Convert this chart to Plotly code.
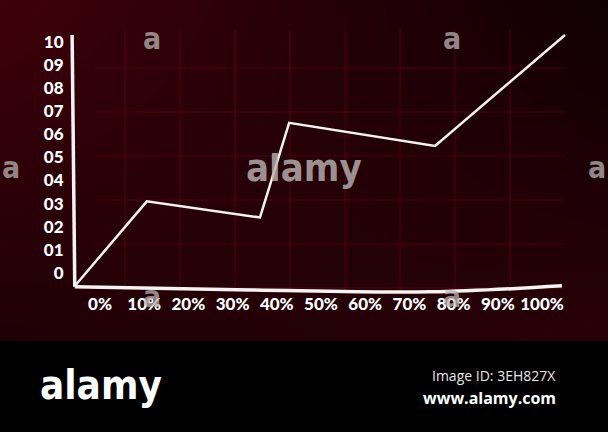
import plotly.graph_objects as go

# tick labels
x_ticks = [0, 10, 20, 30, 40, 50, 60, 70, 80, 90, 100]
x_labels = ["0%", "10%", "20%", "30%", "40%", "50%", "60%", "70%", "80%", "90%", "100%"]
y_ticks = [0, 1, 2, 3, 4, 5, 6, 7, 8, 9, 10]
y_labels = ["0", "01", "02", "03", "04", "05", "06", "07", "08", "09", "10"]

# the hand drawn line
line_x = [-5.4, 10.6, 36.2, 42.8, 75.8, 105.2]
line_y = [-0.5, 3.1, 2.4, 6.5, 5.5, 10.3]

# hand drawn axes
vaxis_x = [-5.7, -6.3]
vaxis_y = [-0.6, 10.3]
haxis_x = [-5.7, 34, 74.7, 104.5]
haxis_y = [-0.6, -0.74, -0.82, -0.56]

# background shading corners (bottom row, top row)
bg_z = [[0.4, 0.6], [1.0, 0.1]]

W, H = 608, 432
FONT = "Lato"
WM = "DejaVu Sans Condensed"

fig = go.Figure()

# background gradient
fig.add_trace(go.Heatmap(z=bg_z, x=[0, 1], y=[0, 1], zsmooth="best",
                         colorscale=[[0, "rgb(10,0,3)"], [1, "rgb(62,0,10)"]],
                         zmin=0, zmax=1, showscale=False, hoverinfo="skip",
                         xaxis="x", yaxis="y"))

# faint grid layer
fig.add_trace(go.Scatter(x=[], y=[], xaxis="x2", yaxis="y2", showlegend=False))

# axes and the line
fig.add_trace(go.Scatter(x=vaxis_x, y=vaxis_y, mode="lines",
                         line=dict(color="#f7f2f2", width=3.5),
                         xaxis="x3", yaxis="y3", showlegend=False, hoverinfo="skip"))
fig.add_trace(go.Scatter(x=haxis_x, y=haxis_y, mode="lines", line_shape="spline",
                         line=dict(color="#f7f2f2", width=3.5),
                         xaxis="x3", yaxis="y3", showlegend=False, hoverinfo="skip"))
fig.add_trace(go.Scatter(x=line_x, y=line_y, mode="lines",
                         line=dict(color="#f7f2f2", width=2.5),
                         xaxis="x3", yaxis="y3", showlegend=False))

foot = (H - 341) / H
px_x = lambda p: p / W
px_y = lambda p: 1 - p / H

hidden = dict(showgrid=False, zeroline=False, showticklabels=False, ticks="", showline=False)
tickfont = dict(family=FONT, size=17, color="white", weight=900)

fig.update_layout(
    width=W, height=H,
    margin=dict(l=0, r=0, t=0, b=0),
    paper_bgcolor="black",
    plot_bgcolor="rgba(0,0,0,0)",
    showlegend=False,
    xaxis=dict(domain=[0, 1], range=[0, 1], **hidden),
    yaxis=dict(domain=[foot, 1], range=[0, 1], **hidden),
    xaxis2=dict(domain=[px_x(95), px_x(565)], range=[95, 565], showgrid=True,
                tick0=125, dtick=55, gridcolor="rgba(120,0,20,0.28)", gridwidth=2,
                zeroline=False, showticklabels=False, ticks="", anchor="y2"),
    yaxis2=dict(domain=[px_y(292), px_y(30)], range=[292, 30], showgrid=True,
                tick0=68, dtick=44, gridcolor="rgba(120,0,20,0.25)", gridwidth=2,
                zeroline=False, showticklabels=False, ticks="", anchor="x2"),
    xaxis3=dict(domain=[px_x(64.6), px_x(577.4)], range=[-8, 108],
                tickvals=x_ticks, ticktext=x_labels, showgrid=False, zeroline=False,
                showline=False, ticks="", anchor="y3", tickfont=tickfont,
                ticklabelstandoff=-4),
    yaxis3=dict(domain=[px_y(296), px_y(23.5)], range=[-1, 10.8],
                tickvals=y_ticks, ticktext=y_labels, showgrid=False, zeroline=False,
                showline=False, ticks="", anchor="x3", tickfont=tickfont),
)

def note(text, x, y, size, color, family=WM, weight="bold", xanchor="center"):
    fig.add_annotation(text=text, x=px_x(x), y=px_y(y), xref="paper", yref="paper",
                       xanchor=xanchor, yanchor="middle", showarrow=False,
                       font=dict(family=family, size=size, color=color, weight=weight))

# watermark
note("alamy", 304, 168, 38, "rgba(185,178,178,0.82)")
for ax, ay, anc in [(152, 38, "center"), (452, 38, "center"), (0, 168, "left"),
                    (608, 168, "right"), (152, 296, "center"), (452, 296, "center")]:
    note("a", ax, ay, 30, "rgba(185,178,178,0.75)", xanchor=anc)

# footer
note("alamy", 101, 385, 40, "white")
note("Image ID: 3EH827X", 558, 375, 14, "#e8e8e8", family="Open Sans", weight="normal",
     xanchor="right")
note("www.alamy.com", 558, 398, 16, "white", family="Open Sans", xanchor="right")

fig.write_html("out.html", config={"displayModeBar": False},
               post_script="document.body.style.margin='0';")
